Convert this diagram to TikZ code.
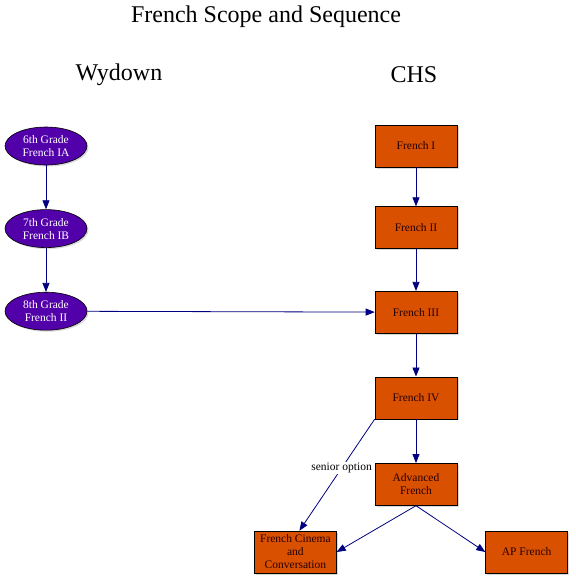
\documentclass[tikz,border=0pt]{standalone}
\usepackage{fontspec}
\setmainfont{Liberation Serif}
\usetikzlibrary{arrows.meta,positioning,shapes.geometric,shadows}
\definecolor{wydownpurple}{RGB}{82,0,170}
\definecolor{chsorange}{RGB}{217,80,0}
\definecolor{edgenavy}{RGB}{0,0,128}

\begin{document}
\begin{tikzpicture}[->,>={Triangle[length=9pt,width=7pt]},node distance=42pt,
	line width=0.8pt,draw=edgenavy,
	school node/.style={ellipse,draw=black,line width=0.6pt,fill=wydownpurple,text=white,
		minimum width=82pt,minimum height=38pt,inner sep=0pt,align=center,
		font=\fontsize{11.5}{13}\selectfont,
		drop shadow={shadow xshift=1.5pt,shadow yshift=-1.5pt,opacity=0.3}},
	course node/.style={rectangle,draw=black,line width=0.6pt,fill=chsorange,text=black!85!red,
		minimum width=82pt,minimum height=42pt,inner sep=1pt,align=center,
		font=\fontsize{11.5}{13}\selectfont,
		drop shadow={shadow xshift=1.5pt,shadow yshift=-1.5pt,opacity=0.3}},
	heading/.style={font=\fontsize{24}{28}\selectfont}]
	
	\useasboundingbox (0,0) rectangle (576pt,-579pt);
	
	% headings
	\node[heading] (title) at (266pt,-17pt) {French Scope and Sequence};
	\node[heading] (wydown) at (119pt,-75pt) {Wydown};
	\node[heading] (chs) at (414pt,-75pt) {CHS};
	
	% Wydown
	\node[school node] (g6) at (46pt,-146pt) {6th Grade\\French IA};
	\node[school node] (g7) [below=44pt of g6] {7th Grade\\French IB};
	\node[school node] (g8) [below=44pt of g7] {8th Grade\\French II};
	
	% CHS
	\node[course node] (fr1) at (416pt,-146pt) {French I};
	\node[course node] (fr2) [below=39pt of fr1] {French II};
	\node[course node] (fr3) [below=of fr2] {French III};
	\node[course node] (fr4) [below=43pt of fr3] {French IV};
	\node[course node] (adv) [below=44pt of fr4] {Advanced\\French};
	\node[course node] (cinema) [below left=25pt and 38pt of adv] {French Cinema\\and\\Conversation};
	\node[course node] (ap) [below right=25pt and 28pt of adv] {AP French};
	
	\path[edgenavy]
	(g6) edge (g7)
	(g7) edge (g8)
	(g8) edge (fr3)
	(fr1) edge (fr2)
	(fr2) edge (fr3)
	(fr3) edge (fr4)
	(fr4) edge (adv)
	(fr4.south west) edge node[pos=0.44,fill=white,inner sep=1pt,text=black,
		font=\fontsize{11.5}{13}\selectfont] {senior option} ([xshift=4pt]cinema.north)
	(adv.south) edge (cinema.east)
	(adv.south) edge (ap.west);
\end{tikzpicture}
\end{document}
